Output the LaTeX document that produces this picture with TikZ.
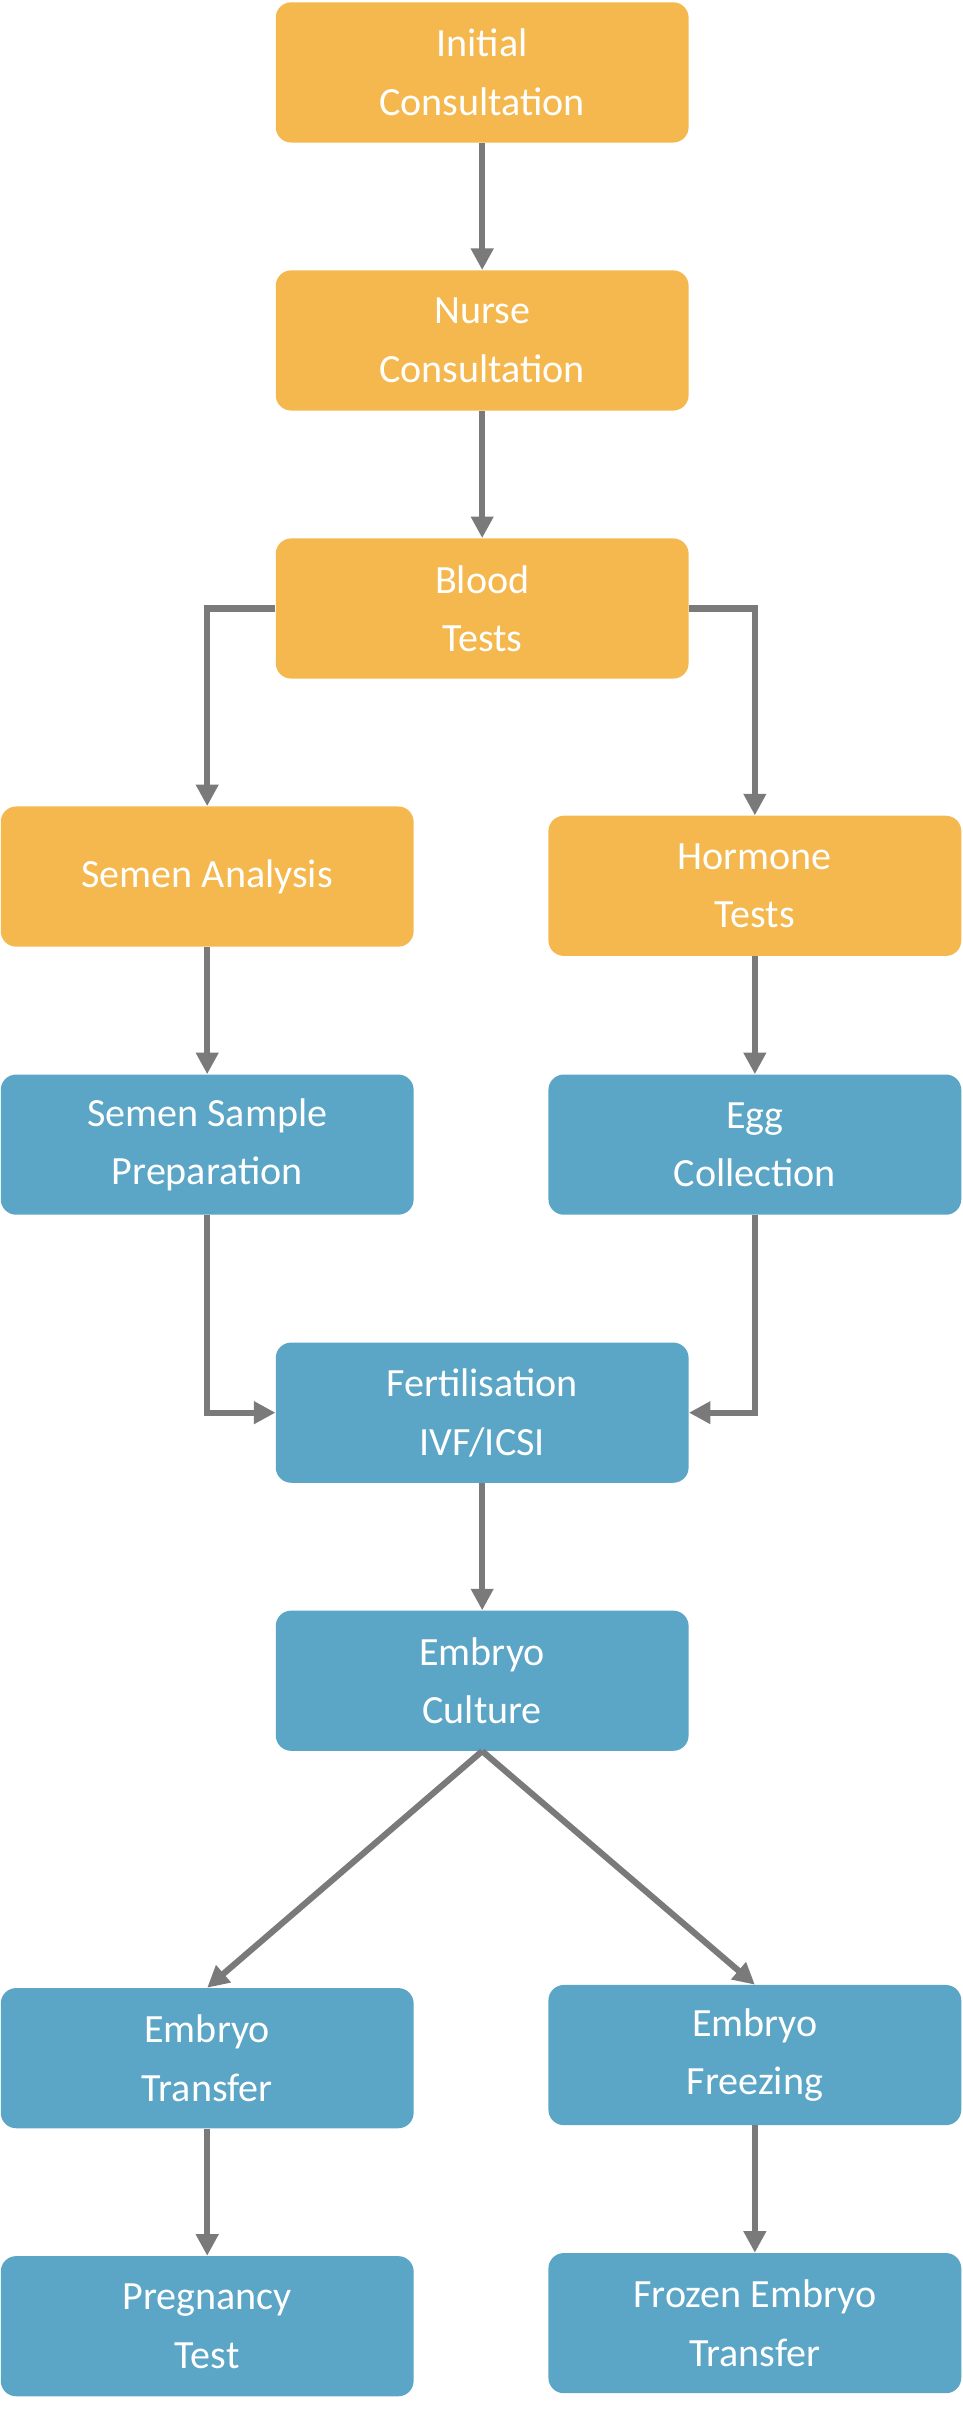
\documentclass[tikz,border=0pt]{standalone}
\usepackage{fontspec}
\setmainfont{Carlito}
\usetikzlibrary{arrows.meta}
\definecolor{org}{HTML}{F4B84E}
\definecolor{blu}{HTML}{5BA5C6}
\definecolor{arr}{HTML}{7A7A7A}
\begin{document}
\begin{tikzpicture}[x=1pt,y=-1pt,
 box/.style={rounded corners=10pt,minimum width=268pt,minimum height=91pt,inner sep=0pt,text=white,align=center,font=\fontsize{26pt}{38pt}\selectfont},
 o/.style={box,fill=org}, b/.style={box,fill=blu},
 ar/.style={draw=arr,line width=4pt,-{Triangle[length=14pt,width=14pt]}}]
\useasboundingbox (0,0) rectangle (625,1567);
\node[o] (ic) at (313,47) {Initial\\Consultation};
\node[o] (nc) at (313,221) {Nurse\\Consultation};
\node[o] (bt) at (313,395) {Blood\\Tests};
\node[o] (sa) at (134.5,569) {Semen Analysis};
\node[o] (ht) at (490,575) {Hormone\\Tests};
\node[b] (sp) at (134.5,743) {Semen Sample\\Preparation};
\node[b] (eg) at (490,743) {Egg\\Collection};
\node[b] (fe) at (313,917) {Fertilisation\\IVF/ICSI};
\node[b] (ec) at (313,1091) {Embryo\\Culture};
\node[b] (et) at (134.5,1336) {Embryo\\Transfer};
\node[b] (ef) at (490,1334) {Embryo\\Freezing};
\node[b] (pt) at (134.5,1510) {Pregnancy\\Test};
\node[b] (fr) at (490,1508) {Frozen Embryo\\Transfer};
\draw[ar] (ic) -- (nc);
\draw[ar] (nc) -- (bt);
\draw[ar] (bt.west) -| (sa.north);
\draw[ar] (bt.east) -| (ht.north);
\draw[ar] (sa) -- (sp);
\draw[ar] (ht) -- (eg);
\draw[ar] (sp.south) |- (fe.west);
\draw[ar] (eg.south) |- (fe.east);
\draw[ar] (fe) -- (ec);
\draw[ar] (ec.south) -- (et.north);
\draw[ar] (ec.south) -- (ef.north);
\draw[ar] (et) -- (pt);
\draw[ar] (ef) -- (fr);
\end{tikzpicture}
\end{document}
